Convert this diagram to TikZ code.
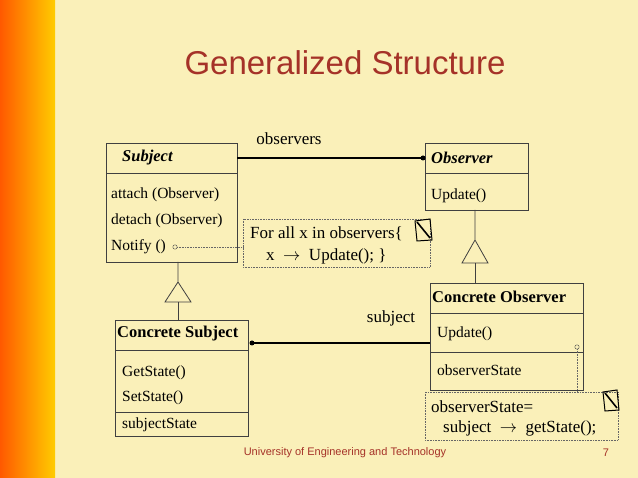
\documentclass[tikz,border=0pt]{standalone}
\usepackage{fontspec}
\setmainfont{Liberation Serif}
\newfontfamily\titlefont{Liberation Sans}
\definecolor{ttl}{RGB}{165,50,40}
\definecolor{bg}{RGB}{250,240,185}
\begin{document}
\begin{tikzpicture}[x=1pt,y=-1pt,
  box/.style={draw=black!75,line width=0.8pt},
  txt/.style={anchor=west,inner sep=0pt,font=\fontsize{15.5}{15.5}\selectfont},
  big/.style={font=\fontsize{17}{17}\selectfont},
  note/.style={draw=black!60,densely dotted,line width=0.6pt},
  assoc/.style={line width=1.6pt}]
\useasboundingbox (0,0) rectangle (638,478);
\fill[bg] (0,0) rectangle (638,478);
\shade[left color=orange!70!red,right color=yellow!60!orange] (0,0) rectangle (55,478);
\node[font=\titlefont\fontsize{33}{33}\selectfont,text=ttl] (title) at (345,63) {Generalized Structure};
% Subject
\draw[box] (106,143) rectangle (237,262); \draw[box] (106,173) -- (237,173);
\node[txt,font=\fontsize{16.5}{16.5}\selectfont\bfseries\itshape] (subj) at (122,158) {Subject};
\node[txt] (att) at (111,195) {attach (Observer)};
\node[txt] (det) at (111,221) {detach (Observer)};
\node[txt] (noti) at (111,247) {Notify ()};
% Observer
\draw[box] (425,143) rectangle (528,210); \draw[box] (425,173) -- (528,173);
\node[txt,font=\fontsize{16.5}{16.5}\selectfont\bfseries\itshape] (obs) at (431,158) {Observer};
\node[txt] (upd) at (431,196) {Update()};
\node[big] (obsl) at (289,139) {observers};
\draw[assoc] (237,158) -- (423,158); \fill (423,158) circle (2.5);
% Note 1
\draw[note] (243,219) rectangle (430,267);
\node[txt,big] (n1a) at (250,234) {For all x in observers\{};
\node[txt,big] (n1b) at (266,256) {x ~$\rightarrow$~ Update(); \}};
\draw[line width=1pt] (415,221) -- (430,219) -- (432,240) -- (417,241) -- cycle;
\draw[line width=1.6pt] (417,222) -- (430,238);
\draw[black!70] (175,247) circle (2.2);
\draw[note] (177,247) -- (243,247);
% Inheritance Subject
\draw[box] (178,262) -- (178,282) (165,302) -- (178,282) -- (191,302) -- cycle;
\draw[box] (178,302) -- (178,320);
% Concrete Subject
\draw[box] (115,320) rectangle (248,436); \draw[box] (115,350) -- (248,350); \draw[box] (115,412) -- (248,412);
\node[txt,font=\fontsize{16.5}{16.5}\selectfont\bfseries] (cs) at (117,334) {Concrete Subject};
\node[txt] (gs) at (122,373) {GetState()};
\node[txt] (ss) at (122,398) {SetState()};
\node[txt] (sst) at (122,425) {subjectState};
% Inheritance Observer
\draw[box] (475,210) -- (475,240) (462,263) -- (475,240) -- (488,263) -- cycle;
\draw[box] (475,263) -- (475,283);
% Concrete Observer
\draw[box] (430,283) rectangle (583,390); \draw[box] (430,313) -- (583,313); \draw[box] (430,352) -- (583,352);
\node[txt,font=\fontsize{16.5}{16.5}\selectfont\bfseries] (co) at (432,297) {Concrete Observer};
\node[txt] (cu) at (437,334) {Update()};
\node[txt] (os) at (437,370) {observerState};
\node[big] (subl) at (391,318) {subject};
\draw[assoc] (430,343) -- (253,343); \fill (252,343) circle (2.5);
% Note 2
\draw[black!70] (577,347) circle (2.2);
\draw[note] (577,349) -- (577,392);
\draw[note] (425,392) rectangle (618,440);
\node[txt,big] (n2a) at (431,407) {observerState=};
\node[txt,big] (n2b) at (443,428) {subject ~$\rightarrow$~ getState();};
\draw[line width=1pt] (603,392) -- (617,390) -- (619,410) -- (605,411) -- cycle;
\draw[line width=1.6pt] (605,393) -- (617,408);
% Footer
\node[font=\titlefont\fontsize{11}{11}\selectfont,text=ttl] (foot) at (345,453) {University of Engineering and Technology};
\node[font=\titlefont\fontsize{11}{11}\selectfont,text=ttl] (pg) at (606,453) {7};
\end{tikzpicture}
\end{document}
